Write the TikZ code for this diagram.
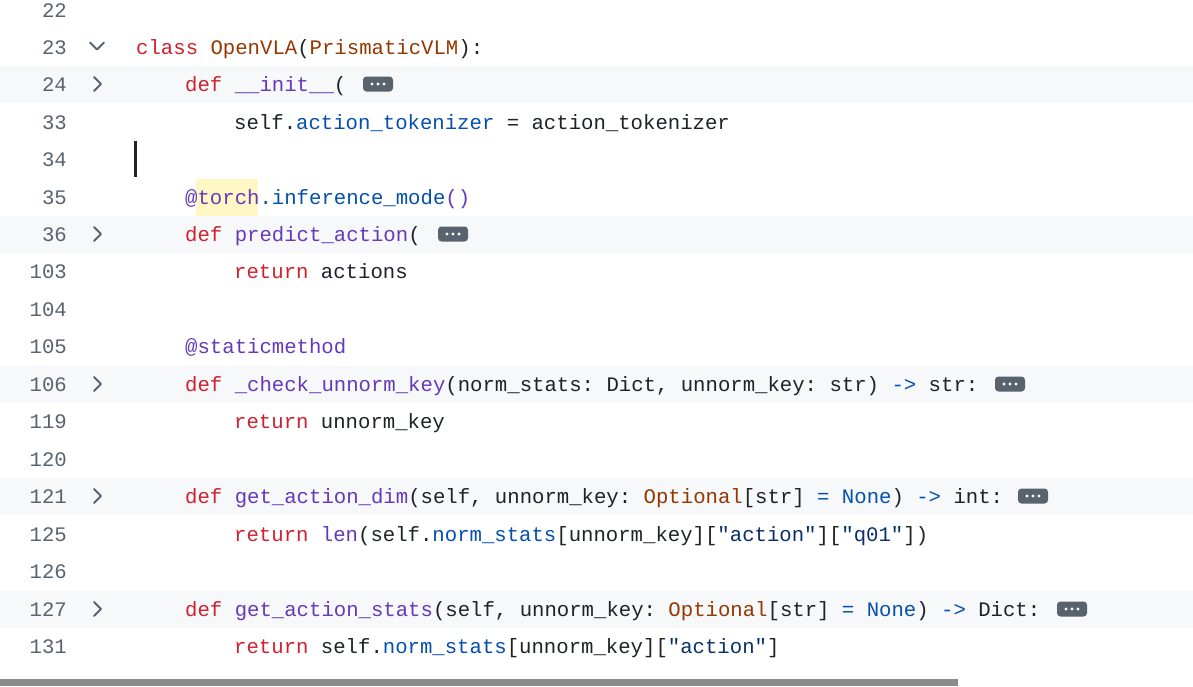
\documentclass[tikz,border=0pt]{standalone}
\usepackage{fontspec}
\newfontfamily\cm{Liberation Mono}
\frenchspacing
\definecolor{kw}{HTML}{CF222E}
\definecolor{fn}{HTML}{6639BA}
\definecolor{cl}{HTML}{953800}
\definecolor{bl}{HTML}{0550AE}
\definecolor{st}{HTML}{0A3069}
\definecolor{tx}{HTML}{1F2328}
\definecolor{ln}{HTML}{59636E}
\definecolor{rowbg}{HTML}{F6F8FA}
\definecolor{hl}{HTML}{FFF8C5}
\newcommand\K[1]{\textcolor{kw}{#1}}
\newcommand\F[1]{\textcolor{fn}{#1}}
\newcommand\C[1]{\textcolor{cl}{#1}}
\newcommand\B[1]{\textcolor{bl}{#1}}
\newcommand\Q[1]{\textcolor{st}{#1}}
\begin{document}
\begin{tikzpicture}[x=1pt,y=-1pt,
  code/.style={anchor=base west,inner sep=0pt,font=\cm\frenchspacing\fontsize{20.65}{22}\selectfont,text=tx},
  lnum/.style={anchor=base east,inner sep=0pt,font=\cm\fontsize{20.65}{22}\selectfont,text=ln},
  chev/.style={draw=ln,line width=2pt,line cap=round,line join=round},
  more/.style={fill=ln,rounded corners=3.5pt,minimum width=30pt,minimum height=15pt,inner sep=0pt}]
\useasboundingbox (0,0) rectangle (1193,686);
\fill[white] (0,0) rectangle (1193,686);
% highlighted rows
\foreach \c in {84,234,384,496,609}{\fill[rowbg] (0,\c-18.5) rectangle (1193,\c+18.5);}
\fill[hl] (196,178.5) rectangle (258,215.5);
% line numbers
\foreach \n/\c in {22/10,23/47,24/84,33/122,34/159,35/197,36/234,103/271,104/309,105/346,106/384,119/421,120/459,121/496,125/534,126/571,127/609,131/646}{\node[lnum] (n\n) at (67,\c+7) {\n};}
% chevrons
\draw[chev] (90,42.5) -- (97,49.5) -- (104,42.5);
\foreach \c in {84,234,384,496,609}{\draw[chev] (94,\c-7) -- (101,\c) -- (94,\c+7);}
% cursor
\fill[tx] (134,141) rectangle (136.5,177);
% code
\node[code] (l23) at (136,54) {\K{class} \C{OpenVLA}(\C{PrismaticVLM}):};
\node[code] (l24) at (185,91) {\K{def} \F{\_\_init\_\_}(};
\node[code] (l33) at (234,129) {self.\B{action\_tokenizer} = action\_tokenizer};
\node[code] (l35) at (185,204) {\F{@torch}\B{.inference\_mode}\F{()}};
\node[code] (l36) at (185,241) {\K{def} \F{predict\_action}(};
\node[code] (l103) at (234,278) {\K{return} actions};
\node[code] (l105) at (185,353) {\F{@staticmethod}};
\node[code] (l106) at (185,391) {\K{def} \F{\_check\_unnorm\_key}(norm\_stats: Dict, unnorm\_key: str) \B{->} str:};
\node[code] (l119) at (234,428) {\K{return} unnorm\_key};
\node[code] (l121) at (185,503) {\K{def} \F{get\_action\_dim}(self, unnorm\_key: \C{Optional}[str] \B{=} \B{None}) \B{->} int:};
\node[code] (l125) at (234,541) {\K{return} \F{len}(self.\B{norm\_stats}[unnorm\_key][\Q{"action"}][\Q{"q01"}])};
\node[code] (l127) at (185,616) {\K{def} \F{get\_action\_stats}(self, unnorm\_key: \C{Optional}[str] \B{=} \B{None}) \B{->} Dict:};
\node[code] (l131) at (234,653) {\K{return} self.\B{norm\_stats}[unnorm\_key][\Q{"action"}]};
% ellipsis boxes
\foreach \x/\c/\nm in {378/84/a,453/234/b,1010/384/c,1033/496/d,1072/609/e}{
  \node[more] (m\nm) at (\x,\c) {};
  \foreach \d in {-6,0,6}{\fill[white] (\x+\d,\c) circle (1.7pt);}
}
% scrollbar
\fill[black!45] (0,679) rectangle (958,686);
\end{tikzpicture}
\end{document}
